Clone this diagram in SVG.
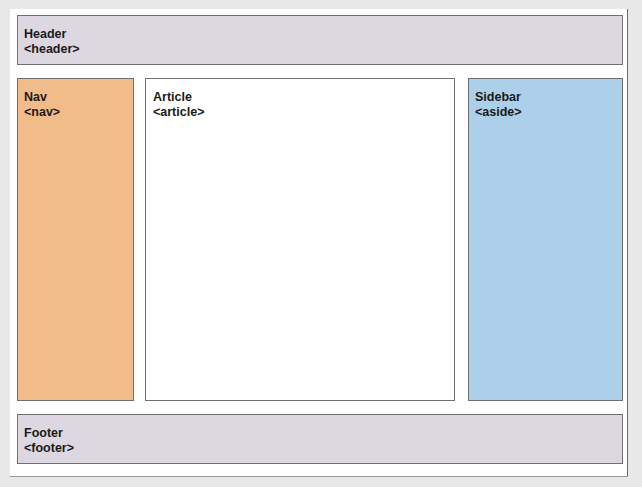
<svg xmlns="http://www.w3.org/2000/svg" width="642" height="487" viewBox="0 0 642 487">
<style>
.box{stroke:#6f6f6f;stroke-width:1}
.t{font-family:"Liberation Sans",Arial,sans-serif;font-size:12.5px;font-weight:bold;fill:#1a1a1a}
</style>
<rect x="0" y="0" width="642" height="487" fill="#e8e8e8"/>
<rect x="10" y="9" width="618" height="467" fill="#ffffff"/>
<line x1="627.5" y1="9" x2="627.5" y2="476.5" stroke="#6a6a6a" stroke-width="1"/>
<line x1="10" y1="476.5" x2="628" y2="476.5" stroke="#9a9a9a" stroke-width="1"/>
<g id="header">
<rect class="box" x="17.5" y="15.5" width="605" height="49" fill="#dcd7e0"/>
<text class="t" x="24" y="38">Header</text>
<text class="t" x="24" y="52.5">&lt;header&gt;</text>
</g>
<g id="nav">
<rect class="box" x="17.5" y="78.5" width="116" height="322" fill="#f2bb8a"/>
<text class="t" x="24" y="101">Nav</text>
<text class="t" x="24" y="116">&lt;nav&gt;</text>
</g>
<g id="article">
<rect class="box" x="145.5" y="78.5" width="309" height="322" fill="#ffffff" stroke="#8a8a8a"/>
<text class="t" x="153" y="101">Article</text>
<text class="t" x="153" y="116">&lt;article&gt;</text>
</g>
<g id="sidebar">
<rect class="box" x="468.5" y="78.5" width="154" height="322" fill="#acd0e9"/>
<text class="t" x="475" y="101">Sidebar</text>
<text class="t" x="475" y="116">&lt;aside&gt;</text>
</g>
<g id="footer">
<rect class="box" x="17.5" y="414.5" width="605" height="49" fill="#dcd7e0"/>
<text class="t" x="24" y="437">Footer</text>
<text class="t" x="24" y="452">&lt;footer&gt;</text>
</g>
<g id="connectors"/>
</svg>
